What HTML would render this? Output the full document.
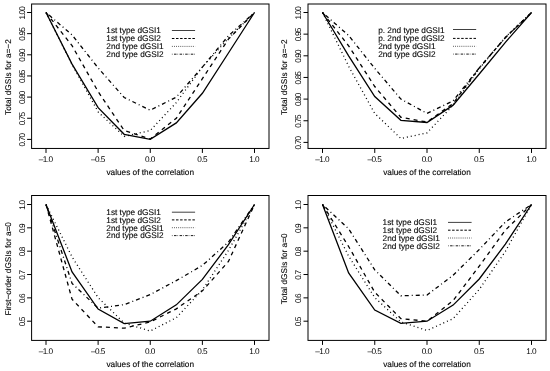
<!DOCTYPE html><html><head><meta charset="utf-8"><style>html,body{margin:0;padding:0;background:#fff;overflow:hidden}svg{display:block;text-rendering:geometricPrecision}</style></head><body>
<svg width="550" height="371" viewBox="0 0 550 371">
<rect x="0" y="0" width="550" height="371" fill="#fff"/>
<g><rect x="31.60" y="4.00" width="237.40" height="144.45" fill="none" stroke="#000" stroke-width="1"/><line x1="46.00" y1="148.45" x2="46.00" y2="152.95" stroke="#000" stroke-width="1"/><line x1="98.12" y1="148.45" x2="98.12" y2="152.95" stroke="#000" stroke-width="1"/><line x1="150.25" y1="148.45" x2="150.25" y2="152.95" stroke="#000" stroke-width="1"/><line x1="202.38" y1="148.45" x2="202.38" y2="152.95" stroke="#000" stroke-width="1"/><line x1="254.50" y1="148.45" x2="254.50" y2="152.95" stroke="#000" stroke-width="1"/><line x1="27.10" y1="139.40" x2="31.60" y2="139.40" stroke="#000" stroke-width="1"/><line x1="27.10" y1="118.25" x2="31.60" y2="118.25" stroke="#000" stroke-width="1"/><line x1="27.10" y1="97.10" x2="31.60" y2="97.10" stroke="#000" stroke-width="1"/><line x1="27.10" y1="75.95" x2="31.60" y2="75.95" stroke="#000" stroke-width="1"/><line x1="27.10" y1="54.80" x2="31.60" y2="54.80" stroke="#000" stroke-width="1"/><line x1="27.10" y1="33.65" x2="31.60" y2="33.65" stroke="#000" stroke-width="1"/><line x1="27.10" y1="12.50" x2="31.60" y2="12.50" stroke="#000" stroke-width="1"/><polyline points="46.00,12.50 72.06,64.11 98.12,107.67 124.19,134.32 150.25,139.40 176.31,122.90 202.38,93.29 228.44,52.98 254.50,12.50" fill="none" stroke="#000" stroke-width="1.3"/><polyline points="46.00,12.50 72.06,45.71 98.12,91.60 124.19,130.52 150.25,138.98 176.31,118.25 202.38,78.70 228.44,39.15 254.50,12.50" fill="none" stroke="#000" stroke-width="1.3" stroke-dasharray="4 4"/><polyline points="46.00,12.50 72.06,64.53 98.12,111.91 124.19,136.44 150.25,130.52 176.31,102.60 202.38,67.07 228.44,38.30 254.50,12.50" fill="none" stroke="#000" stroke-width="1.3" stroke-dasharray="1 3"/><polyline points="46.00,12.50 72.06,34.92 98.12,67.91 124.19,97.52 150.25,110.21 176.31,97.10 202.38,67.07 228.44,35.77 254.50,12.50" fill="none" stroke="#000" stroke-width="1.3" stroke-dasharray="1 3 4 3"/><line x1="171.90" y1="30.50" x2="195.10" y2="30.50" stroke="#000" stroke-width="0.75"/><line x1="171.90" y1="38.50" x2="195.10" y2="38.50" stroke="#000" stroke-width="1.0" stroke-dasharray="2.5 1.6"/><line x1="171.90" y1="46.40" x2="195.10" y2="46.40" stroke="#000" stroke-width="0.7" stroke-dasharray="0.9 1.2"/><line x1="171.90" y1="54.20" x2="195.10" y2="54.20" stroke="#000" stroke-width="0.9" stroke-dasharray="0.6 1.5 2.5 1.0"/></g>
<g><rect x="308.00" y="4.00" width="238.00" height="144.45" fill="none" stroke="#000" stroke-width="1"/><line x1="322.50" y1="148.45" x2="322.50" y2="152.95" stroke="#000" stroke-width="1"/><line x1="374.75" y1="148.45" x2="374.75" y2="152.95" stroke="#000" stroke-width="1"/><line x1="427.00" y1="148.45" x2="427.00" y2="152.95" stroke="#000" stroke-width="1"/><line x1="479.25" y1="148.45" x2="479.25" y2="152.95" stroke="#000" stroke-width="1"/><line x1="531.50" y1="148.45" x2="531.50" y2="152.95" stroke="#000" stroke-width="1"/><line x1="303.50" y1="142.40" x2="308.00" y2="142.40" stroke="#000" stroke-width="1"/><line x1="303.50" y1="120.75" x2="308.00" y2="120.75" stroke="#000" stroke-width="1"/><line x1="303.50" y1="99.10" x2="308.00" y2="99.10" stroke="#000" stroke-width="1"/><line x1="303.50" y1="77.45" x2="308.00" y2="77.45" stroke="#000" stroke-width="1"/><line x1="303.50" y1="55.80" x2="308.00" y2="55.80" stroke="#000" stroke-width="1"/><line x1="303.50" y1="34.15" x2="308.00" y2="34.15" stroke="#000" stroke-width="1"/><line x1="303.50" y1="12.50" x2="308.00" y2="12.50" stroke="#000" stroke-width="1"/><polyline points="322.50,12.50 348.62,55.80 374.75,96.50 400.88,120.32 427.00,122.48 453.12,105.16 479.25,73.99 505.38,42.38 531.50,12.50" fill="none" stroke="#000" stroke-width="1.3"/><polyline points="322.50,12.50 348.62,45.84 374.75,86.54 400.88,117.29 427.00,122.05 453.12,103.43 479.25,67.92 505.38,37.61 531.50,12.50" fill="none" stroke="#000" stroke-width="1.3" stroke-dasharray="4 4"/><polyline points="322.50,12.50 348.62,66.19 374.75,113.39 400.88,138.50 427.00,132.87 453.12,105.16 479.25,68.79 505.38,37.18 531.50,12.50" fill="none" stroke="#000" stroke-width="1.3" stroke-dasharray="1 3"/><polyline points="322.50,12.50 348.62,35.45 374.75,68.36 400.88,99.10 427.00,113.39 453.12,100.83 479.25,67.92 505.38,37.61 531.50,12.50" fill="none" stroke="#000" stroke-width="1.3" stroke-dasharray="1 3 4 3"/><line x1="453.00" y1="29.50" x2="476.20" y2="29.50" stroke="#000" stroke-width="0.75"/><line x1="453.00" y1="38.40" x2="476.20" y2="38.40" stroke="#000" stroke-width="1.0" stroke-dasharray="2.5 1.6"/><line x1="453.00" y1="46.30" x2="476.20" y2="46.30" stroke="#000" stroke-width="0.7" stroke-dasharray="0.9 1.2"/><line x1="453.00" y1="54.10" x2="476.20" y2="54.10" stroke="#000" stroke-width="0.9" stroke-dasharray="0.6 1.5 2.5 1.0"/></g>
<g><rect x="31.60" y="195.50" width="237.40" height="144.90" fill="none" stroke="#000" stroke-width="1"/><line x1="46.00" y1="340.40" x2="46.00" y2="344.90" stroke="#000" stroke-width="1"/><line x1="98.12" y1="340.40" x2="98.12" y2="344.90" stroke="#000" stroke-width="1"/><line x1="150.25" y1="340.40" x2="150.25" y2="344.90" stroke="#000" stroke-width="1"/><line x1="202.38" y1="340.40" x2="202.38" y2="344.90" stroke="#000" stroke-width="1"/><line x1="254.50" y1="340.40" x2="254.50" y2="344.90" stroke="#000" stroke-width="1"/><line x1="27.10" y1="321.20" x2="31.60" y2="321.20" stroke="#000" stroke-width="1"/><line x1="27.10" y1="297.86" x2="31.60" y2="297.86" stroke="#000" stroke-width="1"/><line x1="27.10" y1="274.52" x2="31.60" y2="274.52" stroke="#000" stroke-width="1"/><line x1="27.10" y1="251.18" x2="31.60" y2="251.18" stroke="#000" stroke-width="1"/><line x1="27.10" y1="227.84" x2="31.60" y2="227.84" stroke="#000" stroke-width="1"/><line x1="27.10" y1="204.50" x2="31.60" y2="204.50" stroke="#000" stroke-width="1"/><polyline points="46.00,204.50 72.06,271.95 98.12,309.06 124.19,323.53 150.25,321.20 176.31,304.86 202.38,279.42 228.44,244.64 254.50,204.50" fill="none" stroke="#000" stroke-width="1.3"/><polyline points="46.00,204.50 72.06,299.26 98.12,326.80 124.19,328.20 150.25,321.90 176.31,308.83 202.38,290.86 228.44,261.45 254.50,204.50" fill="none" stroke="#000" stroke-width="1.3" stroke-dasharray="4 4"/><polyline points="46.00,204.50 72.06,257.01 98.12,297.63 124.19,323.07 150.25,331.00 176.31,317.70 202.38,289.92 228.44,250.48 254.50,204.50" fill="none" stroke="#000" stroke-width="1.3" stroke-dasharray="1 3"/><polyline points="46.00,204.50 72.06,283.39 98.12,308.13 124.19,304.63 150.25,294.59 176.31,280.59 202.38,265.42 228.44,242.08 254.50,204.50" fill="none" stroke="#000" stroke-width="1.3" stroke-dasharray="1 3 4 3"/><line x1="171.90" y1="212.20" x2="195.10" y2="212.20" stroke="#000" stroke-width="0.75"/><line x1="171.90" y1="219.90" x2="195.10" y2="219.90" stroke="#000" stroke-width="1.0" stroke-dasharray="2.5 1.6"/><line x1="171.90" y1="227.70" x2="195.10" y2="227.70" stroke="#000" stroke-width="0.7" stroke-dasharray="0.9 1.2"/><line x1="171.90" y1="235.60" x2="195.10" y2="235.60" stroke="#000" stroke-width="0.9" stroke-dasharray="0.6 1.5 2.5 1.0"/></g>
<g><rect x="308.00" y="195.50" width="238.00" height="144.90" fill="none" stroke="#000" stroke-width="1"/><line x1="322.50" y1="340.40" x2="322.50" y2="344.90" stroke="#000" stroke-width="1"/><line x1="374.75" y1="340.40" x2="374.75" y2="344.90" stroke="#000" stroke-width="1"/><line x1="427.00" y1="340.40" x2="427.00" y2="344.90" stroke="#000" stroke-width="1"/><line x1="479.25" y1="340.40" x2="479.25" y2="344.90" stroke="#000" stroke-width="1"/><line x1="531.50" y1="340.40" x2="531.50" y2="344.90" stroke="#000" stroke-width="1"/><line x1="303.50" y1="321.20" x2="308.00" y2="321.20" stroke="#000" stroke-width="1"/><line x1="303.50" y1="297.86" x2="308.00" y2="297.86" stroke="#000" stroke-width="1"/><line x1="303.50" y1="274.52" x2="308.00" y2="274.52" stroke="#000" stroke-width="1"/><line x1="303.50" y1="251.18" x2="308.00" y2="251.18" stroke="#000" stroke-width="1"/><line x1="303.50" y1="227.84" x2="308.00" y2="227.84" stroke="#000" stroke-width="1"/><line x1="303.50" y1="204.50" x2="308.00" y2="204.50" stroke="#000" stroke-width="1"/><polyline points="322.50,204.50 348.62,272.89 374.75,310.00 400.88,323.30 427.00,321.20 453.12,305.10 479.25,278.95 505.38,244.18 531.50,204.50" fill="none" stroke="#000" stroke-width="1.3"/><polyline points="322.50,204.50 348.62,246.51 374.75,292.26 400.88,318.63 427.00,321.20 453.12,300.66 479.25,266.12 505.38,230.17 531.50,204.50" fill="none" stroke="#000" stroke-width="1.3" stroke-dasharray="4 4"/><polyline points="322.50,204.50 348.62,256.08 374.75,297.63 400.88,321.90 427.00,330.54 453.12,318.63 479.25,289.46 505.38,251.41 531.50,204.50" fill="none" stroke="#000" stroke-width="1.3" stroke-dasharray="1 3"/><polyline points="322.50,204.50 348.62,228.77 374.75,269.85 400.88,295.76 427.00,295.06 453.12,275.22 479.25,249.55 505.38,222.00 531.50,204.50" fill="none" stroke="#000" stroke-width="1.3" stroke-dasharray="1 3 4 3"/><line x1="448.00" y1="222.40" x2="471.60" y2="222.40" stroke="#000" stroke-width="0.75"/><line x1="448.00" y1="230.20" x2="471.60" y2="230.20" stroke="#000" stroke-width="1.0" stroke-dasharray="2.5 1.6"/><line x1="448.00" y1="238.00" x2="471.60" y2="238.00" stroke="#000" stroke-width="0.7" stroke-dasharray="0.9 1.2"/><line x1="448.00" y1="245.80" x2="471.60" y2="245.80" stroke="#000" stroke-width="0.9" stroke-dasharray="0.6 1.5 2.5 1.0"/></g>
<g><text x="45.70" y="162.15" text-anchor="middle" font-family="Liberation Sans, Arial, sans-serif" font-size="8.25" letter-spacing="-0.6">–1.0</text><text x="97.83" y="162.15" text-anchor="middle" font-family="Liberation Sans, Arial, sans-serif" font-size="8.25" letter-spacing="-0.6">–0.5</text><text x="149.95" y="162.15" text-anchor="middle" font-family="Liberation Sans, Arial, sans-serif" font-size="8.25" letter-spacing="-0.6">0.0</text><text x="202.07" y="162.15" text-anchor="middle" font-family="Liberation Sans, Arial, sans-serif" font-size="8.25" letter-spacing="-0.6">0.5</text><text x="254.20" y="162.15" text-anchor="middle" font-family="Liberation Sans, Arial, sans-serif" font-size="8.25" letter-spacing="-0.6">1.0</text><text x="150.25" y="175.45" text-anchor="middle" font-family="Liberation Sans, Arial, sans-serif" stroke="#000" stroke-width="0.18" stroke-opacity="0.6" font-size="8.25">values of the correlation</text><text x="24.05" y="139.40" transform="rotate(-90 24.80 139.40)" text-anchor="middle" font-family="Liberation Sans, Arial, sans-serif" font-size="8.25" letter-spacing="-0.9">0.70</text><text x="24.05" y="118.25" transform="rotate(-90 24.80 118.25)" text-anchor="middle" font-family="Liberation Sans, Arial, sans-serif" font-size="8.25" letter-spacing="-0.9">0.75</text><text x="24.05" y="97.10" transform="rotate(-90 24.80 97.10)" text-anchor="middle" font-family="Liberation Sans, Arial, sans-serif" font-size="8.25" letter-spacing="-0.9">0.80</text><text x="24.05" y="75.95" transform="rotate(-90 24.80 75.95)" text-anchor="middle" font-family="Liberation Sans, Arial, sans-serif" font-size="8.25" letter-spacing="-0.9">0.85</text><text x="24.05" y="54.80" transform="rotate(-90 24.80 54.80)" text-anchor="middle" font-family="Liberation Sans, Arial, sans-serif" font-size="8.25" letter-spacing="-0.9">0.90</text><text x="24.05" y="33.65" transform="rotate(-90 24.80 33.65)" text-anchor="middle" font-family="Liberation Sans, Arial, sans-serif" font-size="8.25" letter-spacing="-0.9">0.95</text><text x="24.05" y="12.50" transform="rotate(-90 24.80 12.50)" text-anchor="middle" font-family="Liberation Sans, Arial, sans-serif" font-size="8.25" letter-spacing="-0.9">1.00</text><text x="11.20" y="77.12" transform="rotate(-90 11.20 77.12)" text-anchor="middle" font-family="Liberation Sans, Arial, sans-serif" stroke="#000" stroke-width="0.18" stroke-opacity="0.6" font-size="8.25">Total dGSIs for a=−2</text><text x="106.30" y="33.40" font-family="Liberation Sans, Arial, sans-serif" stroke="#000" stroke-width="0.18" stroke-opacity="0.6" font-size="8.25">1st type dGSI1</text><text x="106.30" y="41.20" font-family="Liberation Sans, Arial, sans-serif" stroke="#000" stroke-width="0.18" stroke-opacity="0.6" font-size="8.25">1st type dGSI2</text><text x="106.30" y="49.10" font-family="Liberation Sans, Arial, sans-serif" stroke="#000" stroke-width="0.18" stroke-opacity="0.6" font-size="8.25">2nd type dGSI1</text><text x="106.30" y="57.00" font-family="Liberation Sans, Arial, sans-serif" stroke="#000" stroke-width="0.18" stroke-opacity="0.6" font-size="8.25">2nd type dGSI2</text></g>
<g><text x="322.20" y="162.15" text-anchor="middle" font-family="Liberation Sans, Arial, sans-serif" font-size="8.25" letter-spacing="-0.6">–1.0</text><text x="374.45" y="162.15" text-anchor="middle" font-family="Liberation Sans, Arial, sans-serif" font-size="8.25" letter-spacing="-0.6">–0.5</text><text x="426.70" y="162.15" text-anchor="middle" font-family="Liberation Sans, Arial, sans-serif" font-size="8.25" letter-spacing="-0.6">0.0</text><text x="478.95" y="162.15" text-anchor="middle" font-family="Liberation Sans, Arial, sans-serif" font-size="8.25" letter-spacing="-0.6">0.5</text><text x="531.20" y="162.15" text-anchor="middle" font-family="Liberation Sans, Arial, sans-serif" font-size="8.25" letter-spacing="-0.6">1.0</text><text x="427.00" y="175.45" text-anchor="middle" font-family="Liberation Sans, Arial, sans-serif" stroke="#000" stroke-width="0.18" stroke-opacity="0.6" font-size="8.25">values of the correlation</text><text x="300.25" y="142.40" transform="rotate(-90 301.00 142.40)" text-anchor="middle" font-family="Liberation Sans, Arial, sans-serif" font-size="8.25" letter-spacing="-0.9">0.70</text><text x="300.25" y="120.75" transform="rotate(-90 301.00 120.75)" text-anchor="middle" font-family="Liberation Sans, Arial, sans-serif" font-size="8.25" letter-spacing="-0.9">0.75</text><text x="300.25" y="99.10" transform="rotate(-90 301.00 99.10)" text-anchor="middle" font-family="Liberation Sans, Arial, sans-serif" font-size="8.25" letter-spacing="-0.9">0.80</text><text x="300.25" y="77.45" transform="rotate(-90 301.00 77.45)" text-anchor="middle" font-family="Liberation Sans, Arial, sans-serif" font-size="8.25" letter-spacing="-0.9">0.85</text><text x="300.25" y="55.80" transform="rotate(-90 301.00 55.80)" text-anchor="middle" font-family="Liberation Sans, Arial, sans-serif" font-size="8.25" letter-spacing="-0.9">0.90</text><text x="300.25" y="34.15" transform="rotate(-90 301.00 34.15)" text-anchor="middle" font-family="Liberation Sans, Arial, sans-serif" font-size="8.25" letter-spacing="-0.9">0.95</text><text x="300.25" y="12.50" transform="rotate(-90 301.00 12.50)" text-anchor="middle" font-family="Liberation Sans, Arial, sans-serif" font-size="8.25" letter-spacing="-0.9">1.00</text><text x="287.20" y="77.12" transform="rotate(-90 287.20 77.12)" text-anchor="middle" font-family="Liberation Sans, Arial, sans-serif" stroke="#000" stroke-width="0.18" stroke-opacity="0.6" font-size="8.25">Total dGSIs for a=−2</text><text x="378.20" y="33.40" font-family="Liberation Sans, Arial, sans-serif" stroke="#000" stroke-width="0.18" stroke-opacity="0.6" font-size="8.25">p. 2nd type dGSI1</text><text x="378.20" y="41.20" font-family="Liberation Sans, Arial, sans-serif" stroke="#000" stroke-width="0.18" stroke-opacity="0.6" font-size="8.25">p. 2nd type dGSI2</text><text x="378.20" y="49.10" font-family="Liberation Sans, Arial, sans-serif" stroke="#000" stroke-width="0.18" stroke-opacity="0.6" font-size="8.25">2nd type dGSI1</text><text x="378.20" y="57.00" font-family="Liberation Sans, Arial, sans-serif" stroke="#000" stroke-width="0.18" stroke-opacity="0.6" font-size="8.25">2nd type dGSI2</text></g>
<g><text x="45.70" y="354.10" text-anchor="middle" font-family="Liberation Sans, Arial, sans-serif" font-size="8.25" letter-spacing="-0.6">–1.0</text><text x="97.83" y="354.10" text-anchor="middle" font-family="Liberation Sans, Arial, sans-serif" font-size="8.25" letter-spacing="-0.6">–0.5</text><text x="149.95" y="354.10" text-anchor="middle" font-family="Liberation Sans, Arial, sans-serif" font-size="8.25" letter-spacing="-0.6">0.0</text><text x="202.07" y="354.10" text-anchor="middle" font-family="Liberation Sans, Arial, sans-serif" font-size="8.25" letter-spacing="-0.6">0.5</text><text x="254.20" y="354.10" text-anchor="middle" font-family="Liberation Sans, Arial, sans-serif" font-size="8.25" letter-spacing="-0.6">1.0</text><text x="150.25" y="367.40" text-anchor="middle" font-family="Liberation Sans, Arial, sans-serif" stroke="#000" stroke-width="0.18" stroke-opacity="0.6" font-size="8.25">values of the correlation</text><text x="24.05" y="321.20" transform="rotate(-90 24.80 321.20)" text-anchor="middle" font-family="Liberation Sans, Arial, sans-serif" font-size="8.25" letter-spacing="-0.9">0.5</text><text x="24.05" y="297.86" transform="rotate(-90 24.80 297.86)" text-anchor="middle" font-family="Liberation Sans, Arial, sans-serif" font-size="8.25" letter-spacing="-0.9">0.6</text><text x="24.05" y="274.52" transform="rotate(-90 24.80 274.52)" text-anchor="middle" font-family="Liberation Sans, Arial, sans-serif" font-size="8.25" letter-spacing="-0.9">0.7</text><text x="24.05" y="251.18" transform="rotate(-90 24.80 251.18)" text-anchor="middle" font-family="Liberation Sans, Arial, sans-serif" font-size="8.25" letter-spacing="-0.9">0.8</text><text x="24.05" y="227.84" transform="rotate(-90 24.80 227.84)" text-anchor="middle" font-family="Liberation Sans, Arial, sans-serif" font-size="8.25" letter-spacing="-0.9">0.9</text><text x="24.05" y="204.50" transform="rotate(-90 24.80 204.50)" text-anchor="middle" font-family="Liberation Sans, Arial, sans-serif" font-size="8.25" letter-spacing="-0.9">1.0</text><text x="11.20" y="268.85" transform="rotate(-90 11.20 268.85)" text-anchor="middle" font-family="Liberation Sans, Arial, sans-serif" stroke="#000" stroke-width="0.18" stroke-opacity="0.6" font-size="8.25">First−order dGSIs for a=0</text><text x="106.30" y="215.00" font-family="Liberation Sans, Arial, sans-serif" stroke="#000" stroke-width="0.18" stroke-opacity="0.6" font-size="8.25">1st type dGSI1</text><text x="106.30" y="222.70" font-family="Liberation Sans, Arial, sans-serif" stroke="#000" stroke-width="0.18" stroke-opacity="0.6" font-size="8.25">1st type dGSI2</text><text x="106.30" y="230.50" font-family="Liberation Sans, Arial, sans-serif" stroke="#000" stroke-width="0.18" stroke-opacity="0.6" font-size="8.25">2nd type dGSI1</text><text x="106.30" y="238.30" font-family="Liberation Sans, Arial, sans-serif" stroke="#000" stroke-width="0.18" stroke-opacity="0.6" font-size="8.25">2nd type dGSI2</text></g>
<g><text x="322.20" y="354.10" text-anchor="middle" font-family="Liberation Sans, Arial, sans-serif" font-size="8.25" letter-spacing="-0.6">–1.0</text><text x="374.45" y="354.10" text-anchor="middle" font-family="Liberation Sans, Arial, sans-serif" font-size="8.25" letter-spacing="-0.6">–0.5</text><text x="426.70" y="354.10" text-anchor="middle" font-family="Liberation Sans, Arial, sans-serif" font-size="8.25" letter-spacing="-0.6">0.0</text><text x="478.95" y="354.10" text-anchor="middle" font-family="Liberation Sans, Arial, sans-serif" font-size="8.25" letter-spacing="-0.6">0.5</text><text x="531.20" y="354.10" text-anchor="middle" font-family="Liberation Sans, Arial, sans-serif" font-size="8.25" letter-spacing="-0.6">1.0</text><text x="427.00" y="367.40" text-anchor="middle" font-family="Liberation Sans, Arial, sans-serif" stroke="#000" stroke-width="0.18" stroke-opacity="0.6" font-size="8.25">values of the correlation</text><text x="300.25" y="321.20" transform="rotate(-90 301.00 321.20)" text-anchor="middle" font-family="Liberation Sans, Arial, sans-serif" font-size="8.25" letter-spacing="-0.9">0.5</text><text x="300.25" y="297.86" transform="rotate(-90 301.00 297.86)" text-anchor="middle" font-family="Liberation Sans, Arial, sans-serif" font-size="8.25" letter-spacing="-0.9">0.6</text><text x="300.25" y="274.52" transform="rotate(-90 301.00 274.52)" text-anchor="middle" font-family="Liberation Sans, Arial, sans-serif" font-size="8.25" letter-spacing="-0.9">0.7</text><text x="300.25" y="251.18" transform="rotate(-90 301.00 251.18)" text-anchor="middle" font-family="Liberation Sans, Arial, sans-serif" font-size="8.25" letter-spacing="-0.9">0.8</text><text x="300.25" y="227.84" transform="rotate(-90 301.00 227.84)" text-anchor="middle" font-family="Liberation Sans, Arial, sans-serif" font-size="8.25" letter-spacing="-0.9">0.9</text><text x="300.25" y="204.50" transform="rotate(-90 301.00 204.50)" text-anchor="middle" font-family="Liberation Sans, Arial, sans-serif" font-size="8.25" letter-spacing="-0.9">1.0</text><text x="287.20" y="268.85" transform="rotate(-90 287.20 268.85)" text-anchor="middle" font-family="Liberation Sans, Arial, sans-serif" stroke="#000" stroke-width="0.18" stroke-opacity="0.6" font-size="8.25">Total dGSIs for a=0</text><text x="382.60" y="225.00" font-family="Liberation Sans, Arial, sans-serif" stroke="#000" stroke-width="0.18" stroke-opacity="0.6" font-size="8.25">1st type dGSI1</text><text x="382.60" y="232.70" font-family="Liberation Sans, Arial, sans-serif" stroke="#000" stroke-width="0.18" stroke-opacity="0.6" font-size="8.25">1st type dGSI2</text><text x="382.60" y="240.50" font-family="Liberation Sans, Arial, sans-serif" stroke="#000" stroke-width="0.18" stroke-opacity="0.6" font-size="8.25">2nd type dGSI1</text><text x="382.60" y="249.00" font-family="Liberation Sans, Arial, sans-serif" stroke="#000" stroke-width="0.18" stroke-opacity="0.6" font-size="8.25">2nd type dGSI2</text></g>
</svg></body></html>
